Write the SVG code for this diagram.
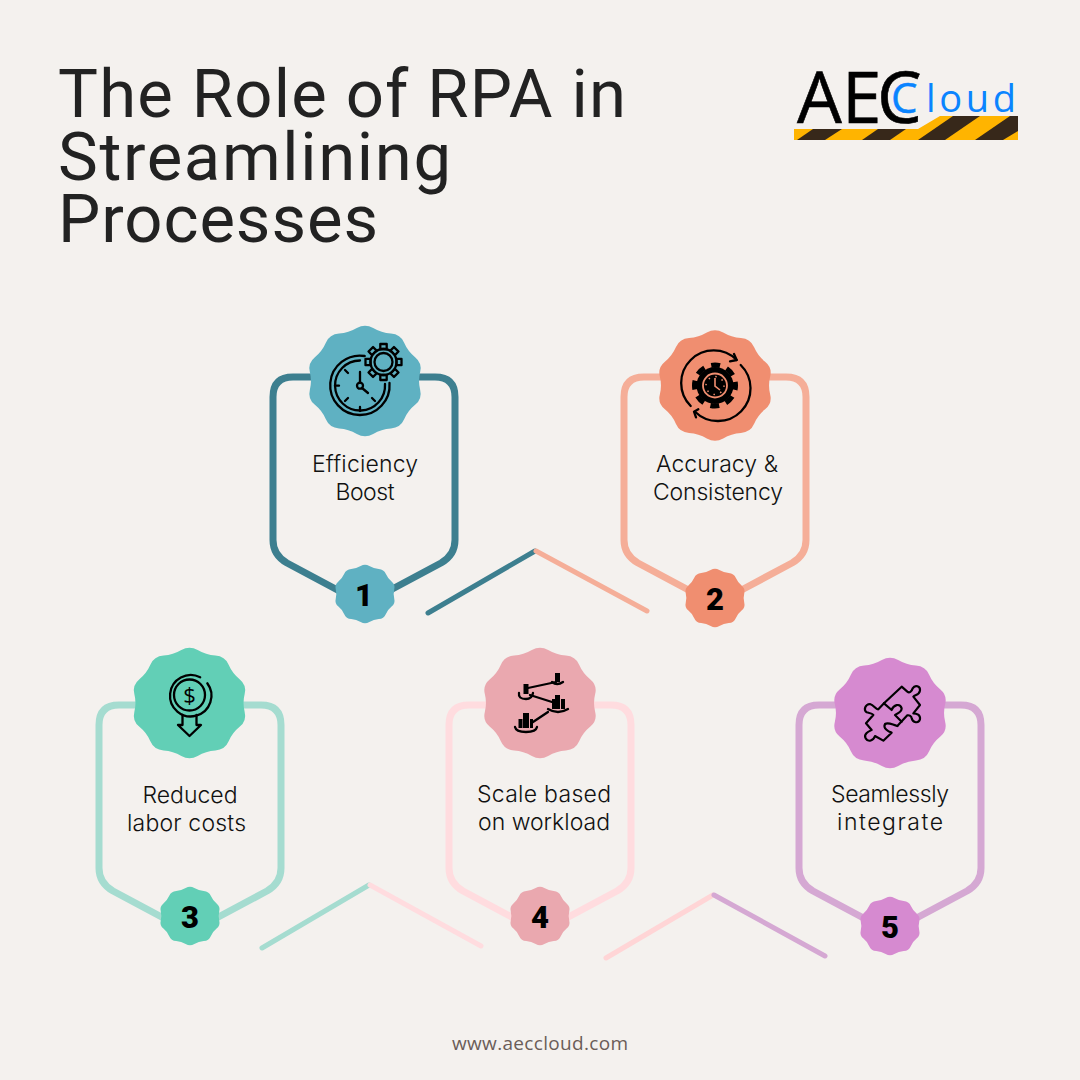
<svg xmlns="http://www.w3.org/2000/svg" xmlns:xlink="http://www.w3.org/1999/xlink" width="1080" height="1080" viewBox="0 0 1080 1080">
<style>
.title{font-family:"Roboto","Inter",sans-serif;font-size:67px;font-weight:400;fill:#222222}
.label{font-family:"Inter","Roboto",sans-serif;font-size:23px;font-weight:300;fill:#111111;text-anchor:middle}
.num{font-family:"Roboto","Inter",sans-serif;font-size:31px;font-weight:900;fill:#000000;text-anchor:middle}
.frame{fill:none;stroke-width:7;stroke-linecap:round;stroke-linejoin:round}
.conn{fill:none;stroke-width:5;stroke-linecap:round}
.ink{fill:none;stroke:#000;stroke-width:2.3;stroke-linecap:round;stroke-linejoin:round}
.solid{fill:#000}
</style>
<defs>
<path id="blob" d="M-14.21,-96.25 Q0,-105 14.21,-96.25 T45.08,-86.23 T68.08,-69.52 T87.15,-43.26 T95.94,-16.23 T95.94,16.23 T87.15,43.26 T68.08,69.52 T45.08,86.23 T14.21,96.25 T-14.21,96.25 T-45.08,86.23 T-68.08,69.52 T-87.15,43.26 T-95.94,16.23 T-95.94,-16.23 T-87.15,-43.26 T-68.08,-69.52 T-45.08,-86.23 T-14.21,-96.25 Z"/>
<path id="frameShape" d="M40,0 H20 Q0,0 0,20 V163 Q0,178 14,186 L72,217 M142,0 H162 Q182,0 182,20 V163 Q182,178 168,186 L110,217"/>
<rect id="tooth" x="-3.2" y="-18" width="6.4" height="5" class="ink"/>
</defs>
<rect width="1080" height="1080" fill="#f4f1ee"/>

<g id="title">
<text class="title" x="58" y="117" textLength="568" lengthAdjust="spacing">The Role of RPA in</text>
<text class="title" x="58" y="180" textLength="393" lengthAdjust="spacing">Streamlining</text>
<text class="title" x="58" y="242" textLength="320" lengthAdjust="spacing">Processes</text>
</g>

<g id="logo">
<polygon points="794,129 918,129 940,116 1018,116 1018,140 794,140" fill="#ffb400"/>
<g fill="#37281a">
<polygon points="797,140 813,129 842,129 825,140"/>
<polygon points="862,140 878,129 906,129 890,140"/>
<polygon points="918,140 953,116 980,116 945,140"/>
<polygon points="975,140 1010,116 1018,116 1018,131 1003,140"/>
</g>
<g font-family="'Open Sans',sans-serif" font-size="71" fill="#000" stroke="#000" stroke-width=".6">
<text x="797" y="123">A</text><text x="842" y="123">E</text><text x="877" y="123">C</text>
</g>
<g font-family="'Open Sans',sans-serif" fill="#0a84ff">
<text x="891" y="113" font-size="42" stroke="#0a84ff" stroke-width=".4">C</text>
<text x="926" y="112" font-size="38" textLength="90" lengthAdjust="spacing">loud</text>
</g>
</g>

<g id="connectors">
<line class="conn" x1="428" y1="613" x2="535" y2="551" stroke="#3d7f8f"/>
<line class="conn" x1="536" y1="551" x2="647" y2="611" stroke="#f5ae98"/>
<line class="conn" x1="262" y1="948" x2="369" y2="885" stroke="#a5dcd0"/>
<line class="conn" x1="370" y1="885" x2="481" y2="946" stroke="#ffdcdf"/>
<line class="conn" x1="606" y1="958" x2="713" y2="895" stroke="#ffd5d6"/>
<line class="conn" x1="714" y1="895" x2="825" y2="956" stroke="#d5a8d3"/>
</g>

<g id="node1">
<use href="#frameShape" x="273" y="377" class="frame" stroke="#3d7f8f"/>
<use href="#blob" transform="translate(365,381) scale(.575,.55)" fill="#5fb1c2"/>
<use href="#blob" transform="translate(365,594) scale(.305,.29)" fill="#5fb1c2"/>
<g class="ink">
<path d="M364.700,356 A29.700,29.700 0 1 0 389.500,383"/>
<path d="M360,360.500 A25,25 0 1 0 385,384"/>
<circle cx="360" cy="385.700" r="3"/>
<path d="M360,372 V383 M362,388 L368,393 M345,370 L348,373 M375,401 L372,398 M345,401 L348,398 M360,411 V407 M335,385.700 H339"/>
<circle cx="383.500" cy="362" r="9"/>
<circle cx="383.500" cy="362" r="13"/>
</g>
<g transform="translate(383.500,362)">
<use href="#tooth"/><use href="#tooth" transform="rotate(45)"/><use href="#tooth" transform="rotate(90)"/><use href="#tooth" transform="rotate(135)"/><use href="#tooth" transform="rotate(180)"/><use href="#tooth" transform="rotate(225)"/><use href="#tooth" transform="rotate(270)"/><use href="#tooth" transform="rotate(315)"/>
</g>
<text class="label" x="365" y="472" textLength="106" lengthAdjust="spacing">Efficiency</text>
<text class="label" x="365" y="500" textLength="59" lengthAdjust="spacing">Boost</text>
<text class="num" x="364" y="606">1</text>
</g>

<g id="node2">
<use href="#frameShape" x="624" y="377" class="frame" stroke="#f5ae98"/>
<use href="#blob" transform="translate(715,385.500) scale(.575,.55)" fill="#f08e70"/>
<use href="#blob" transform="translate(715,598) scale(.305,.29)" fill="#f08e70"/>
<circle cx="715" cy="385.500" r="18.500" class="solid"/>
<circle cx="715" cy="385.500" r="20.500" fill="none" stroke="#000" stroke-width="5" stroke-dasharray="9 7.100" stroke-dashoffset="4.500"/>
<circle cx="715" cy="385.500" r="12" fill="#000" stroke="#f08e70" stroke-width="1.800"/>
<circle cx="715" cy="385.500" r="9" fill="none" stroke="#f08e70" stroke-width="1.500" stroke-dasharray="1.500 5.570"/>
<path d="M715,378 V386 L720,390" fill="none" stroke="#f08e70" stroke-width="1.600"/>
<g class="ink" stroke-width="2">
<path d="M690.700,406 A32.500,32.500 0 0 1 736.700,360"/>
<path d="M740.700,365 A32.500,32.500 0 0 1 695,411.700"/>
<path d="M734,354 L736.700,360 L730,361.300"/>
<path d="M698.300,409.300 L694,411.700 L696,417.300"/>
</g>
<text class="label" x="717" y="472" textLength="122" lengthAdjust="spacing">Accuracy &amp;</text>
<text class="label" x="718" y="500" textLength="130" lengthAdjust="spacing">Consistency</text>
<text class="num" x="715" y="610">2</text>
</g>

<g id="node3">
<use href="#frameShape" x="99" y="705" class="frame" stroke="#a5dcd0"/>
<use href="#blob" transform="translate(189.500,703) scale(.575,.55)" fill="#62cfb6"/>
<use href="#blob" transform="translate(190,916) scale(.305,.29)" fill="#62cfb6"/>
<g class="ink">
<circle cx="189.500" cy="695" r="15.500"/>
<path d="M200.200,677.300 A20.700,20.700 0 1 0 207.300,683.300"/>
<path d="M182.500,715 V725 H178 L189.500,736 L201,725 H196.500 V715"/>
</g>
<text x="189.500" y="703" font-family="'Open Sans',sans-serif" font-size="22" fill="#000" text-anchor="middle">$</text>
<text class="label" x="190" y="803" textLength="95" lengthAdjust="spacing">Reduced</text>
<text class="label" x="186.500" y="831" textLength="119" lengthAdjust="spacing">labor costs</text>
<text class="num" x="190" y="928">3</text>
</g>

<g id="node4">
<use href="#frameShape" x="449" y="705" class="frame" stroke="#ffdcdf"/>
<use href="#blob" transform="translate(540,703) scale(.575,.55)" fill="#eaa8af"/>
<use href="#blob" transform="translate(540,916) scale(.305,.29)" fill="#eaa8af"/>
<g class="solid">
<rect x="555" y="673" width="5" height="9"/>
<rect x="523.500" y="684" width="5" height="10"/>
<rect x="552" y="699" width="4" height="10"/><rect x="555" y="695" width="5" height="14"/><rect x="561" y="699" width="4" height="10"/>
<rect x="518.500" y="719" width="4" height="9"/><rect x="523" y="713" width="6" height="15"/><rect x="530" y="719" width="3" height="9"/>
</g>
<g class="ink">
<path d="M552,682 Q557,686 563,682"/>
<path d="M519,693 Q518,699 526,699 Q532,699 533,693"/>
<path d="M548,709 Q558,715 568,709"/>
<path d="M515,727 Q516,732 526,732 Q536,732 537,727"/>
<path d="M528,688 L556,682 M530,695 L552,702 M548,712 L533,722"/>
</g>
<text class="label" x="544" y="802" textLength="134" lengthAdjust="spacing">Scale based</text>
<text class="label" x="544" y="830" textLength="132" lengthAdjust="spacing">on workload</text>
<text class="num" x="540" y="928">4</text>
</g>

<g id="node5">
<use href="#frameShape" x="799" y="705" class="frame" stroke="#d5a8d3"/>
<use href="#blob" transform="translate(890,713) scale(.575,.55)" fill="#d68ad0"/>
<use href="#blob" transform="translate(890,926) scale(.305,.29)" fill="#d68ad0"/>
<g transform="translate(820,650) scale(.3333)" fill="none" stroke="#000" stroke-width="6.500" stroke-linecap="round" stroke-linejoin="round">
<path d="M192,160 L245,110 L262,125 C268,130 275,125 278,115 C285,103 302,108 300,122 C298,135 285,135 280,140 L300,165 L280,190 C290,190 302,195 300,208 C296,222 278,218 275,205 C275,198 268,195 262,196 L232,228"/>
<path d="M192,160 L175,178 C168,180 162,165 150,162 C135,163 130,180 140,187 C148,190 155,188 160,195 L138,220 L155,240 C145,245 130,252 137,265 C145,278 160,272 165,258 L190,272 L215,248 C205,245 188,235 195,222 C205,215 218,225 232,228"/>
<path d="M192,160 L215,180 C220,165 240,158 245,175 C245,190 228,190 225,195 L245,215"/>
</g>
<text class="label" x="890" y="802" textLength="118" lengthAdjust="spacing">Seamlessly</text>
<text class="label" x="890" y="830" textLength="106" lengthAdjust="spacing">integrate</text>
<text class="num" x="890" y="938">5</text>
</g>

<text id="footer" x="540" y="1050" font-family="'Open Sans',sans-serif" font-size="19" fill="#6b5d58" text-anchor="middle" textLength="176" lengthAdjust="spacing">www.aeccloud.com</text>
</svg>
